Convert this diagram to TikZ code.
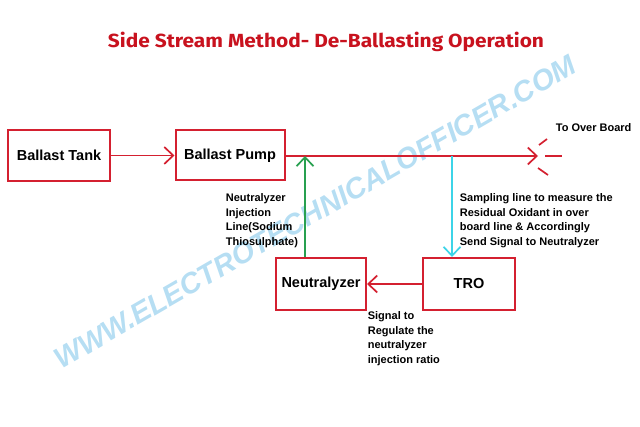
\documentclass[tikz,border=0pt]{standalone}
\usepackage{fontspec}
\setmainfont{Liberation Sans}
\newfontfamily\titlefont{Fira Sans}
\usepackage{graphicx}
\usepackage{tikz}
\usetikzlibrary{positioning}
\usetikzlibrary{arrows.meta}
\usetikzlibrary{backgrounds}
\definecolor{boxred}{RGB}{212,32,48}
\definecolor{titlered}{RGB}{200,18,30}
\definecolor{pipegreen}{RGB}{40,160,80}
\definecolor{samplecyan}{RGB}{60,212,232}
\definecolor{wmblue}{RGB}{182,222,243}

\begin{document}
\begin{tikzpicture}[
            x = 1pt, y = 1pt,
            > = {Straight Barb[length=9pt,width=17pt]}, % open arrow head
            line width = 1.7pt,
            node distance = 171pt % distance between nodes
        ]

        \tikzstyle{block}=[
            draw = boxred,
            line width = 2pt,
            font = \bfseries\fontsize{14.5}{16}\selectfont,
            inner sep = 0pt
        ]
        \tikzstyle{note}=[
            align = left,
            anchor = north west,
            inner sep = 0pt,
            font = \bfseries\fontsize{11}{14.5}\selectfont
        ]

        \useasboundingbox (0,0) rectangle (640,-427);

        % title
        \node[font=\titlefont\bfseries\fontsize{19}{22}\selectfont, text=titlered] (TITLE) at (326,-42) {\scalebox{1.1}[1]{Side Stream Method- De-Ballasting Operation}};

	% main line
        \node[block, minimum width=102pt, minimum height=51pt] (T) at (59,-155.5) {Ballast Tank};
        \node[block, minimum width=109pt, minimum height=50pt] (P) [right of=T] {Ballast Pump};

        \path[draw=boxred, ->] (T) edge node {} (P);

        \coordinate (INJ) at (305,-156);
        \coordinate (SMP) at (452,-156);
        \coordinate (OB) at (538,-156);

        \draw[boxred, ->] (P.east |- OB) -- (OB);
        \draw[boxred] ([xshift=7pt]OB) -- ([xshift=24pt]OB);
        \draw[boxred] ([xshift=1pt,yshift=11pt]OB) -- ([xshift=9pt,yshift=17pt]OB);
        \draw[boxred] ([xshift=0pt,yshift=-12pt]OB) -- ([xshift=10pt,yshift=-19pt]OB);

        \node[note, anchor=west] (OBL) at (555,-128) {To Over Board};

         % treatment
        \node[block, minimum width=90pt, minimum height=52pt] (NZ) at (321,-284) {Neutralyzer};
        \node[block, minimum width=92pt, minimum height=52pt] (TRO) [right of=NZ, node distance=148pt] {TRO};

        \draw[pipegreen, ->] (NZ.north -| INJ) -- (INJ);
        \draw[samplecyan, ->] (SMP) -- (TRO.north -| SMP);
        \path[draw=boxred, ->] (TRO) edge node {} (NZ);

        % labels
        \node[note] (INJL) at (225,-193) {Neutralyzer\\Injection\\Line(Sodium\\Thiosulphate)};
        \node[note] (SMPL) at (459,-193) {Sampling line to measure the\\Residual Oxidant in over\\board line \& Accordingly\\Send Signal to Neutralyzer};
        \node[note] (SIGL) at (367,-311) {Signal to\\Regulate the\\neutralyzer\\injection ratio};

        % watermark
        \begin{scope}[on background layer]
   \node[rotate=30, text=wmblue, font=\bfseries\itshape\fontsize{29}{32}\selectfont] (WM) at (315,-212) {WWW.ELECTROTECHNICALOFFICER.COM};
        \end{scope}

  \end{tikzpicture}
\end{document}
